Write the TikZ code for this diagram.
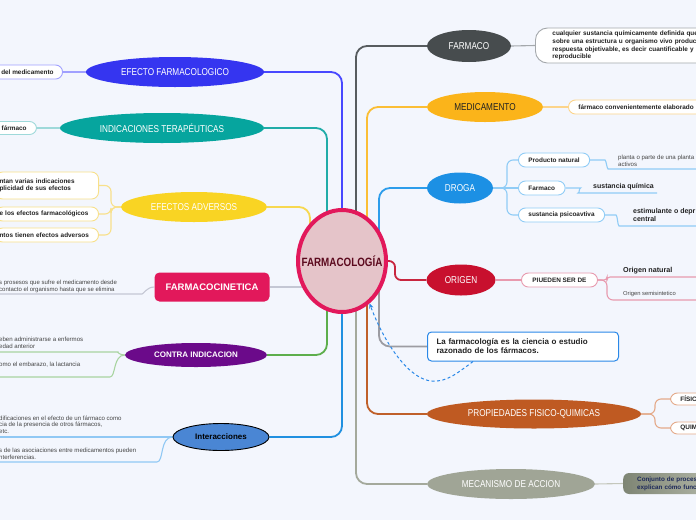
\documentclass[tikz,border=0pt]{standalone}
\usepackage{fontspec}
\setmainfont{Liberation Sans}
\newfontfamily\condfont{Liberation Sans}[FakeStretch=0.82]
\usetikzlibrary{shapes.geometric,arrows.meta,calc}
\pgfdeclarelayer{bg}
\pgfsetlayers{bg,main}
\definecolor{bgc}{RGB}{243,246,253}
\definecolor{cfill}{HTML}{E5C4C9}
\definecolor{cbord}{HTML}{E2185B}
\definecolor{ctext}{HTML}{5C0A1E}
\definecolor{efc}{HTML}{3535F0}
\definecolor{eft}{HTML}{4848FF}
\definecolor{efl}{HTML}{A0A0FF}
\definecolor{inc}{HTML}{06A59E}
\definecolor{intr}{HTML}{20ACA8}
\definecolor{inl}{HTML}{9ED9DA}
\definecolor{eac}{HTML}{F9D423}
\definecolor{eat}{HTML}{F7D850}
\definecolor{eal}{HTML}{F8E08A}
\definecolor{fkc}{HTML}{E2185B}
\definecolor{fkl}{HTML}{C4C7D4}
\definecolor{cic}{HTML}{6B0A8A}
\definecolor{cit}{HTML}{5DAE4C}
\definecolor{cil}{HTML}{A8D4A0}
\definecolor{itc}{HTML}{4A86D4}
\definecolor{itt}{HTML}{2090E0}
\definecolor{itl}{HTML}{90C8F4}
\definecolor{fac}{HTML}{474C4E}
\definecolor{fat}{HTML}{575C5F}
\definecolor{fal}{HTML}{A4A8AC}
\definecolor{mdc}{HTML}{FBB41A}
\definecolor{mdt}{HTML}{FBBE35}
\definecolor{mdl}{HTML}{FCD48A}
\definecolor{drc}{HTML}{1C90E4}
\definecolor{drt}{HTML}{2D9DEB}
\definecolor{drl}{HTML}{90CCF6}
\definecolor{orc}{HTML}{C8102E}
\definecolor{ort}{HTML}{C8263F}
\definecolor{orl}{HTML}{E89AAE}
\definecolor{ntc}{HTML}{2A88E8}
\definecolor{ntt}{HTML}{9C9CA2}
\definecolor{prc}{HTML}{BF5A22}
\definecolor{prt}{HTML}{C0602A}
\definecolor{prl}{HTML}{E4AA8A}
\definecolor{mcc}{HTML}{A0A596}
\definecolor{mct}{HTML}{A4A99C}
\definecolor{mcl}{HTML}{C4C7BC}
\definecolor{txt}{HTML}{222222}
\definecolor{gtx}{HTML}{444444}
\definecolor{navy}{HTML}{1E2A5A}
\definecolor{meda}{HTML}{7E8574}
\definecolor{medb}{HTML}{BCC0B1}
\tikzset{
  topic/.style={ellipse, inner sep=0pt, text=white, font=\condfont\fontsize{10}{12}\selectfont},
  trunk/.style={line width=1.8pt, rounded corners=11pt},
  twig/.style={line width=1.1pt, rounded corners=6pt},
  leaf/.style={draw, fill=white, rounded corners=7pt, line width=0.9pt, inner ysep=0pt, text=txt, font=\bfseries\fontsize{6.4}{7.6}\selectfont},
  smalltxt/.style={inner sep=0pt, text=gtx, align=left, font=\fontsize{6.1}{7}\selectfont},
  boldtxt/.style={inner sep=0pt, text=txt, align=left, font=\bfseries\fontsize{7}{8}\selectfont}
}
\begin{document}
\begin{tikzpicture}[x=1pt,y=-1pt]
\useasboundingbox (0,0) rectangle (696,520);
\clip (0,0) rectangle (696,520);

% centre
\node[ellipse, draw=cbord, line width=4pt, fill=cfill, minimum width=88pt, minimum height=102pt, inner sep=0pt] (c) at (342,261) {};
\node[inner sep=0pt, text=ctext, font=\condfont\bfseries\fontsize{12}{14}\selectfont] (ct) at (c.center) {FARMACOLOGÍA};

% left topics
\node[topic, fill=efc, minimum width=178pt, minimum height=30pt] (efecto) at (175,72) {EFECTO FARMACOLOGICO};
\node[topic, fill=inc, minimum width=204pt, minimum height=30pt] (indic) at (162,128) {INDICACIONES TERAPÉUTICAS};
\node[topic, fill=eac, minimum width=146pt, minimum height=30pt] (ea) at (194,207) {EFECTOS ADVERSOS};
\node[fill=fkc, rounded corners=5pt, minimum width=115pt, minimum height=29pt, inner sep=0pt, text=white, font=\bfseries\fontsize{9.5}{11}\selectfont] (fk) at (212,287) {FARMACOCINETICA};
\node[topic, fill=cic, minimum width=142pt, minimum height=24pt, font=\bfseries\fontsize{8}{10}\selectfont] (ci) at (196,355) {CONTRA INDICACION};
\node[topic, fill=itc, draw=black, line width=0.9pt, text=black, minimum width=96pt, minimum height=27pt, font=\bfseries\fontsize{8}{10}\selectfont] (inter) at (221,437) {Interacciones};

% right topics
\node[topic, fill=fac, minimum width=84pt, minimum height=32pt] (farmaco) at (469,46) {FARMACO};
\node[topic, fill=mdc, text=txt, minimum width=116pt, minimum height=30pt] (med) at (485,107) {MEDICAMENTO};
\node[topic, fill=drc, minimum width=66pt, minimum height=31pt] (droga) at (460,188) {DROGA};
\node[topic, fill=orc, minimum width=69pt, minimum height=31pt] (origen) at (461,280) {ORIGEN};
\node[draw=ntc, fill=white, rounded corners=4pt, line width=1pt, minimum height=29pt, text width=173pt, align=left, inner xsep=9pt, inner ysep=0pt, text=txt, font=\bfseries\fontsize{8}{9}\selectfont, anchor=west] (note) at (427,346.5) {La farmacología es la ciencia o estudio\\razonado de los fármacos.};
\node[topic, fill=prc, minimum width=214pt, minimum height=29pt] (prop) at (534,414) {PROPIEDADES FISICO-QUIMICAS};
\node[topic, fill=mcc, minimum width=168pt, minimum height=30pt] (mec) at (511,484) {MECANISMO DE ACCION};

% left leaves
\node[leaf, draw=efl, anchor=east, minimum height=14pt, inner xsep=9pt] (delm) at (63,72) {del medicamento};
\node[leaf, draw=inl, anchor=east, minimum height=13pt, inner xsep=10pt] (farmq) at (37,128) {fármaco};
\node[leaf, draw=eal, anchor=east, minimum height=27pt, text width=95pt, align=left, inner xsep=4pt] (ea1) at (99,185.5) {ntan varias indicaciones\\plicidad de sus efectos};
\node[leaf, draw=eal, anchor=east, minimum height=14pt, text width=95pt, align=left, inner xsep=4pt] (ea2) at (99,214) {e los efectos farmacológicos};
\node[leaf, draw=eal, anchor=east, minimum height=14pt, text width=95pt, align=left, inner xsep=4pt] (ea3) at (99,235) {ntos tienen efectos adversos};
\node[smalltxt, anchor=west, font=\fontsize{6}{7}\selectfont] (fkt) at (-1,286.5) {s prosesos que sufre el medicamento desde\\contacto el organismo hasta que se elimina};
\node[smalltxt, anchor=west] (ci1) at (-1,342.5) {eben administrarse a enfermos\\edad anterior};
\node[smalltxt, anchor=west] (ci2) at (-1,365) {omo el embarazo, la lactancia};
\node[smalltxt, anchor=west, font=\fontsize{6.1}{6.5}\selectfont] (it1) at (-1,424.5) {dificaciones en el efecto de un fármaco como\\cia de la presencia de otros fármacos,\\etc.};
\node[smalltxt, anchor=west, font=\fontsize{6.1}{6.5}\selectfont] (it2) at (-1,454) {s de las asociaciones entre medicamentos pueden\\nterferencias.};

% right leaves
\node[leaf, draw=fal, anchor=west, rounded corners=12pt, minimum height=35pt, text width=175pt, align=left, inner xsep=17pt, font=\bfseries\fontsize{6.4}{7.7}\selectfont] (fdef) at (535,45.5) {cualquier sustancia químicamente definida que\\sobre una estructura u organismo vivo produc\\respuesta objetivable, es decir cuantificable y\\reproducible};
\node[leaf, draw=mdl, anchor=west, minimum height=14pt, inner xsep=10pt] (meddef) at (568,107) {fármaco convenientemente elaborado};
\node[leaf, draw=drl, anchor=west, minimum height=14pt, inner xsep=10pt] (pn) at (518,160) {Producto natural};
\node[leaf, draw=drl, anchor=west, minimum height=14pt, inner xsep=10pt] (fm) at (518,188) {Farmaco};
\node[leaf, draw=drl, anchor=west, minimum height=14pt, inner xsep=10pt] (ps) at (518,215) {sustancia psicoavtiva};
\node[smalltxt, anchor=west] (gc1) at (618,160.5) {planta o parte de una planta\\activos};
\node[boldtxt, anchor=west] (gc2) at (593,187) {sustancia química};
\node[boldtxt, anchor=west] (gc3) at (633,215) {estimulante o depr\\central};
\node[leaf, draw=orl, anchor=west, minimum height=14pt, inner xsep=11pt] (pied) at (521,280) {PIUEDEN SER DE};
\node[boldtxt, anchor=west, font=\bfseries\fontsize{7.2}{8}\selectfont] (onat) at (623,271) {Origen natural};
\node[smalltxt, anchor=west, font=\fontsize{5.8}{7}\selectfont] (osemi) at (623,294) {Origen semisintetico};
\node[leaf, draw=prl, anchor=west, minimum height=12pt, text width=40pt, align=left, inner xsep=10pt] (fis) at (670,399) {FÍSIC};
\node[leaf, draw=prl, anchor=west, minimum height=12pt, text width=40pt, align=left, inner xsep=10pt] (quim) at (670,428) {QUIM};
\node[rounded corners=6pt, left color=meda, right color=medb, anchor=west, minimum height=21pt, text width=80pt, align=left, inner xsep=14pt, inner ysep=0pt, text=navy, font=\bfseries\fontsize{6.3}{8}\selectfont] (mdef) at (623,483.5) {Conjunto de proces\\explican cómo func};

% free ends
\coordinate (fkend) at (-5,294);
\coordinate (ci1end) at (-5,352);
\coordinate (ci2end) at (-5,377);
\coordinate (it1end) at (-5,437);
\coordinate (it2end) at (-5,462);
\coordinate (gc1end) at (700,169);
\coordinate (gc2end) at (657,193);
\coordinate (gc3end) at (700,226);
\coordinate (onend) at (700,277);
\coordinate (osend) at (700,300);

\begin{pgfonlayer}{bg}
\clip (0,0) rectangle (696,520);
\fill[bgc] (0,0) rectangle (696,520);
% trunks
\draw[trunk, draw=eft] (c.center) |- (efecto.east);
\draw[trunk, draw=intr] ([xshift=-15pt]c.center) |- (indic.east);
\draw[trunk, draw=eat] ([xshift=-32pt]c.center) |- (ea.east);
\draw[trunk, draw=fkl] (c.center |- fk.east) -- (fk.east);
\draw[trunk, draw=cit] ([xshift=-15pt]c.center) |- (ci.east);
\draw[trunk, draw=itt] (c.center) |- (inter.east);
\draw[trunk, draw=fat] ([xshift=14pt]c.center) |- (farmaco.west);
\draw[trunk, draw=mdt] ([xshift=25pt]c.center) |- (med.west);
\draw[trunk, draw=drt] ([xshift=37pt]c.center) |- (droga.west);
\draw[trunk, draw=ort, rounded corners=6pt] (c.east) -- ++(7,0) |- (origen.west);
\draw[trunk, draw=ntt] ([xshift=37pt]c.center) |- (note.west);
\draw[trunk, draw=prt] ([xshift=25pt]c.center) |- (prop.west);
\draw[trunk, draw=mct] ([xshift=14pt]c.center) |- (mec.west);
% left twigs
\draw[twig, draw=efl] (efecto.west) -- (delm.east);
\draw[twig, draw=inl] (indic.west) -- (farmq.east);
\draw[twig, draw=eal] (ea.west) -- (111,207) |- (ea1.east);
\draw[twig, draw=eal] (ea.west) -- (111,207) |- (ea2.east);
\draw[twig, draw=eal] (ea.west) -- (111,207) |- (ea3.east);
\draw[twig, draw=fkl] (fk.west) to[out=180,in=0] (136,294) -- (fkend);
\draw[twig, draw=cil] (ci.west) to[out=180,in=0] (112,352) -- (ci1end);
\draw[twig, draw=cil] (ci.west) to[out=180,in=0] (104,377) -- (ci2end);
\draw[twig, draw=itl] (inter.west) -- (it1end);
\draw[twig, draw=itl] (inter.west) to[out=180,in=0] (151,462) -- (it2end);
% right twigs
\draw[twig, draw=fal] (farmaco.east) -- (fdef.west);
\draw[twig, draw=mdl] (med.east) -- (meddef.west);
\draw[twig, draw=drl] (droga.east) -- (507,188) |- (pn.west);
\draw[twig, draw=drl] (droga.east) -- (fm.west);
\draw[twig, draw=drl] (droga.east) -- (507,188) |- (ps.west);
\draw[twig, draw=drl] (pn.east) -- ++(9,0) to[out=0,in=180] (614,169) -- (gc1end);
\draw[twig, draw=drl] (fm.east) -- ++(9,0) to[out=0,in=180] (584,193) -- (gc2end);
\draw[twig, draw=drl] (ps.east) -- ++(5,0) to[out=0,in=180] (625,226) -- (gc3end);
\draw[twig, draw=orl] (origen.east) -- (pied.west);
\draw[twig, draw=orl, rounded corners=3pt] (pied.east) -- (607,280) |- (onend);
\draw[twig, draw=orl] (pied.east) -- (607,280) |- (osend);
\draw[twig, draw=prl] (prop.east) -- (655,414) |- (fis.west);
\draw[twig, draw=prl] (prop.east) -- (655,414) |- (quim.west);
\draw[twig, draw=mcl] (mec.east) -- (mdef.west);
\end{pgfonlayer}

% dashed relation
\draw[ntc, line width=1pt, dash pattern=on 3pt off 2.5pt, -{Stealth[length=5pt,width=4.5pt]}]
  ([xshift=46pt]note.south west) .. controls (455,375) and (446,382) .. (432,381)
  .. controls (410,380) and (385,345) .. (c.-57);
\end{tikzpicture}
\end{document}
